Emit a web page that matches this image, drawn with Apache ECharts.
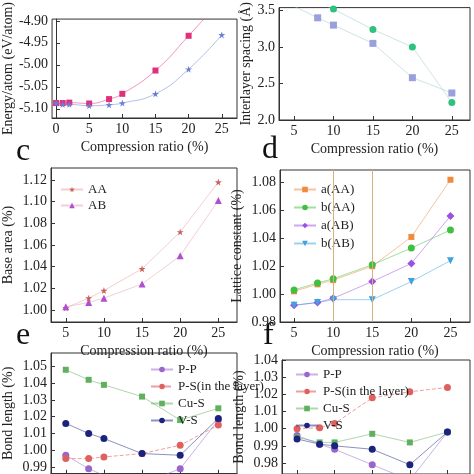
<!DOCTYPE html>
<html><head><meta charset="utf-8">
<script src="https://cdn.jsdelivr.net/npm/echarts@6/dist/echarts.min.js"></script>
<style>html,body{margin:0;padding:0;background:#fff}#c{width:474px;height:474px}</style>
</head><body><div id="c"></div>
<script>
const xA=[0,1,2,5,8,10,15,20,25];
const aAA=[-5.087,-5.087,-5.086,-5.088,-5.078,-5.066,-5.013,-4.934,-4.85];
const aAB=[-5.087,-5.090,-5.090,-5.093,-5.091,-5.087,-5.066,-5.010,-4.932];
const xB=[5,8,10,15,20,25];
const bSq=[3.56,3.40,3.30,3.05,2.58,2.37];
const bCi=[3.75,null,3.52,3.24,3.00,2.24];
const cAA=[1.002,1.011,1.018,1.038,1.072,1.118];
const cAB=[1.003,1.007,1.011,1.024,1.050,1.101];
const d_aAA=[1.002,1.007,1.010,1.020,1.041,1.082];
const d_bAA=[1.003,1.008,1.011,1.021,1.033,1.046];
const d_aAB=[0.992,0.994,0.997,1.009,1.022,1.056];
const d_bAB=[0.992,0.994,0.996,0.996,1.009,1.024];
const ePP=[0.997,0.989,0.985,0.980,0.989,1.018];
const ePS=[0.995,0.995,0.996,0.998,1.003,1.015];
const eCu=[1.048,1.042,1.039,1.032,1.018,1.025];
const eVS=[1.016,1.010,1.007,0.998,0.997,1.019];
const fPP=[0.996,0.991,0.988,0.979,0.970,0.998];
const fPS=[1.000,1.0005,1.003,1.018,1.0215,1.024];
const fCu=[0.995,0.992,0.992,0.997,0.992,0.998];
const fVS=[0.994,0.991,0.990,0.988,0.979,0.998];
const ticksA=[0,5,10,15,20,25], ticks=[5,10,15,20,25];
const yTa=[-5.10,-5.05,-5.00,-4.95,-4.90], yTb=[2.0,2.5,3.0,3.5], yTc=[1.00,1.02,1.04,1.06,1.08,1.10,1.12],
 yTd=[0.98,1.00,1.02,1.04,1.06,1.08], yTe=[0.99,1.00,1.01,1.02,1.03,1.04,1.05], yTf=[0.98,0.99,1.00,1.01,1.02,1.03,1.04];

const F="'Liberation Serif','DejaVu Serif',serif";
const star='path://M50,0 L61,35 L98,35 L68,57 L79,91 L50,70 L21,91 L32,57 L2,35 L39,35 Z';
const grids=[
 {left:45,top:0,width:192,height:118},
 {left:279,top:0,width:191,height:120},
 {left:48,top:168,width:189,height:154},
 {left:280,top:170,width:190,height:152},
 {left:48,top:353,width:189,height:130},
 {left:282,top:360,width:188,height:125}
];
function xax(i,min,max,tv,show){return {gridIndex:i,type:'value',min,max,
 name:show?'Compression ratio (%)':'',nameLocation:'middle',nameGap:show?22:0,nameTextStyle:{fontFamily:F,fontSize:14,color:'#222'},
 axisLine:{lineStyle:{color:'#333'}},splitLine:{show:false},
 axisTick:{inside:true,customValues:tv,length:4},
 axisLabel:{show:show,customValues:tv,fontFamily:F,fontSize:14,color:'#222',margin:4}};}
function yax(i,min,max,tv,name,dec,gap){return {gridIndex:i,type:'value',min,max,
 name,nameLocation:'middle',nameGap:gap,nameTextStyle:{fontFamily:F,fontSize:14,color:'#222'},
 axisLine:{lineStyle:{color:'#333'}},splitLine:{show:false},axisTick:{inside:true,length:4,customValues:tv},
 axisLabel:{fontFamily:F,fontSize:14,color:'#222',margin:4,customValues:tv,formatter:v=>v.toFixed(dec)}};}
function ser(i,name,xs,ys,color,sym,lc,extra){return Object.assign({type:'line',name,xAxisIndex:i,yAxisIndex:i,
 data:xs.map((x,k)=>[x,ys[k]]).filter(p=>p[1]!=null),symbol:sym,symbolSize:7,
 itemStyle:{color},lineStyle:{color:lc||color,width:1,opacity:0.5},clip:true},extra||{});}
const xAx=[xax(0,-0.6,27.3,ticksA,true),xax(1,3.1,27.3,ticks,true),
 xax(2,3.06,27.45,ticks,true),xax(3,3.2,27.5,ticks,true),
 xax(4,3.06,27.45,ticks,false),xax(5,3.0,28,ticks,false)];
const yAx=[
 yax(0,-5.121,-4.896,yTa,'Energy/atom (eV/atom)',2,36),
 yax(1,2.0,3.54,yTb,'Interlayer spacing (Å)',1,24),
 yax(2,0.989,1.131,yTc,'Base area (%)',2,36),
 yax(3,0.98,1.089,yTd,'Lattice constant (%)',2,36),
 yax(4,0.986,1.058,yTe,'Bond length (%)',2,36),
 yax(5,0.9736,1.04,yTf,'Bond length (%)',2,36)
];
const series=[
 ser(0,'AAe',xA,aAA,'#e0307a','rect',null,{symbolSize:6,smooth:true}),
 ser(0,'ABe',xA,aAB,'#6a7fd8',star,null,{symbolSize:7,smooth:true}),
 ser(1,'sq',xB,bSq,'#9aa0dc','rect','#9cc'),
 ser(1,'ci',xB,bCi,'#2ec27e','circle','#9cc'),
 ser(2,'AA',xB,cAA,'#c86060',star,'#e8a0a0'),
 ser(2,'AB',xB,cAB,'#b050d0','triangle','#e8a0b0'),
 ser(3,'a(AA)',xB,d_aAA,'#f08a3c','rect',null,{symbolSize:6,markLine:{silent:true,symbol:'none',label:{show:false},lineStyle:{color:'#d8b080',type:'solid',width:1,opacity:1},data:[{xAxis:10},{xAxis:15}]}}),
 ser(3,'b(AA)',xB,d_bAA,'#40c040','circle'),
 ser(3,'a(AB)',xB,d_aAB,'#9b50e0','diamond',null,{symbolSize:8}),
 ser(3,'b(AB)',xB,d_bAB,'#40a0e0','triangle',null,{symbolRotate:180}),
 ser(4,'P-P',xB,ePP,'#9966cc','circle'),
 ser(4,'P-S(in the layer)',xB,ePS,'#e06060','circle',null,{lineStyle:{color:'#e06060',width:1,type:'dashed',opacity:0.6}}),
 ser(4,'Cu-S',xB,eCu,'#60b060','rect',null,{symbolSize:6}),
 ser(4,'V-S',xB,eVS,'#1a237e','circle'),
 ser(5,'P-P',xB,fPP,'#9966cc','circle'),
 ser(5,'P-S(in the layer)',xB,fPS,'#e06060','circle',null,{lineStyle:{color:'#e06060',width:1,type:'dashed',opacity:0.6}}),
 ser(5,'Cu-S',xB,fCu,'#60b060','rect',null,{symbolSize:6}),
 ser(5,'V-S',xB,fVS,'#1a237e','circle'),
];
function leg(data,left,top,gap){return {data,left,top,orient:'vertical',itemGap:gap||3,itemWidth:22,itemHeight:7,
 textStyle:{fontFamily:F,fontSize:13,color:'#222'},selectedMode:false};}
const option={animation:false,textStyle:{fontFamily:F},grid:grids.map(g=>Object.assign({show:true,borderColor:'#333',borderWidth:1},g)),
 xAxis:xAx,yAxis:yAx,series,
 legend:[leg(['AA','AB'],55,178),leg(['a(AA)','b(AA)','a(AB)','b(AB)'],288,178,5),
   leg(['P-P','P-S(in the layer)','Cu-S','V-S'],145,358,4),leg(['P-P','P-S(in the layer)','Cu-S','V-S'],290,363,4)],
 graphic:[
  {type:'text',left:16,top:136,style:{text:'c',font:'32px "Liberation Serif"',fill:'#111'}},
  {type:'text',left:262,top:134,style:{text:'d',font:'32px "Liberation Serif"',fill:'#111'}},
  {type:'text',left:16,top:320,style:{text:'e',font:'32px "Liberation Serif"',fill:'#111'}},
  {type:'text',left:263,top:320,style:{text:'f',font:'32px "Liberation Serif"',fill:'#111'}}
 ]};
const ch=echarts.init(document.getElementById('c'));ch.setOption(option);
</script></body></html>
